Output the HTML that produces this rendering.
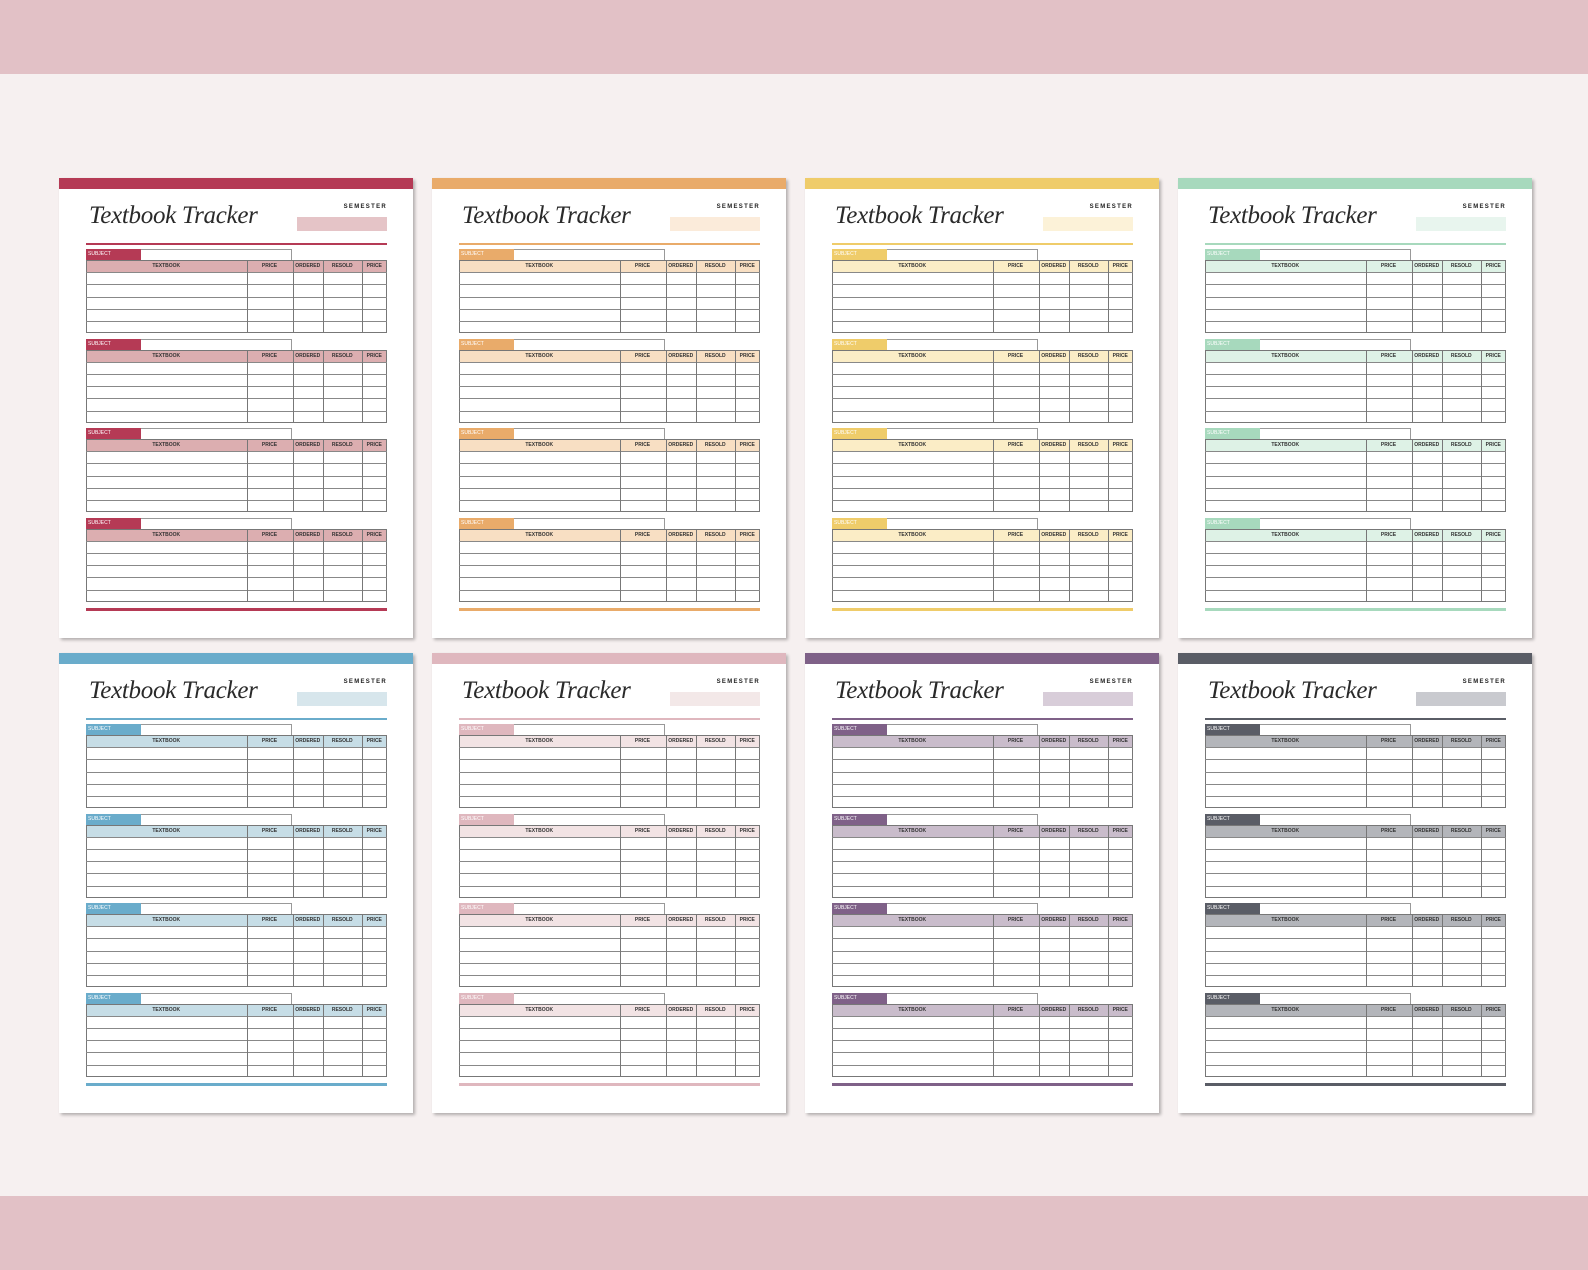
<!DOCTYPE html>
<html><head><meta charset="utf-8">
<style>
html,body{margin:0;padding:0;}
body{width:1588px;height:1270px;background:#f6f0f0;position:relative;overflow:hidden;font-family:"Liberation Sans",sans-serif;}
.band{position:absolute;left:0;width:1588px;background:#e2c1c6;}
.page{position:absolute;width:354px;height:460px;background:#fff;box-shadow:2px 2px 3px rgba(0,0,0,0.28);}
.abs{position:absolute;box-sizing:border-box;}
.title{position:absolute;left:30px;top:24px;font-family:"Liberation Serif",serif;font-style:italic;font-size:25px;color:#2a2a2a;letter-spacing:-0.3px;white-space:nowrap;}
.sem{position:absolute;right:26px;top:26px;font-size:6px;font-weight:bold;letter-spacing:1.3px;color:#222;}
.hd{position:absolute;font-size:5px;color:#333;text-align:center;line-height:12px;font-weight:bold;}
.subj{position:absolute;font-size:5px;color:#fff;line-height:11px;padding-left:2px;box-sizing:border-box;}
</style></head>
<body>
<div class="band" style="top:0;height:74px;"></div>
<div class="band" style="top:1196px;height:74px;"></div>
<div id="root"></div>
<script>
const themeNames = ['red','orange','yellow','green','blue','pink','purple','gray'];
const mainColors = ['#b53a55','#e9ab6a','#efcc6a','#a7d9bd','#6aaccb','#dfb7be','#7f6188','#5a5d66'];
const headerColors = ['#dcaeb0','#f8dfc3','#fbedc6','#def2e6','#c6dde6','#f2e3e4','#c9bccb','#b3b5ba'];
const semColors = ['#e5c4c7','#fbebda','#fcf2d8','#e8f5ee','#d7e6ec','#f3e8e8','#d8cdd9','#c9cacf'];
const columns = ['TEXTBOOK','PRICE','ORDERED','RESOLD','PRICE'];
const colEdges = [0,160.5,206.5,237,275.5,301];

const lefts=[59,432,805,1178], tops=[178,653];
const root=document.getElementById('root');
function mk(parent,cls,style,name){
  const d=document.createElement('div');
  if(cls)d.className=cls;
  d.style.cssText=style;
  
  
  parent.appendChild(d);return d;
}
themeNames.forEach((t,i)=>{
  const c=mainColors[i],h=headerColors[i];
  const p=mk(root,'page',`left:${lefts[i%4]}px;top:${tops[Math.floor(i/4)]}px;`,'planner-page-'+t);
  mk(p,'abs',`left:0;top:0;width:354px;height:11px;background:${c};`,'page-top-bar');
  const ti=mk(p,'title','','page-title');ti.textContent='Textbook Tracker';
  const s=mk(p,'sem','','semester-label');s.textContent='SEMESTER';
  const sb=mk(p,'abs',`left:238px;top:39px;width:90px;height:14px;background:${semColors[i]};`,'semester-field');
  
  mk(p,'abs',`left:27px;top:65px;width:301px;height:2px;background:${c};`,'header-rule');
  const ox=27;
  for(let b=0;b<4;b++){
    const y0=71+b*89.5;
    const sl=mk(p,'subj',`left:${ox}px;top:${y0}px;width:55px;height:11px;background:${c};`,'subject-label');sl.textContent='SUBJECT';
    const sf=mk(p,'abs',`left:${ox+55}px;top:${y0}px;width:151px;height:12px;border:1px solid #999;border-left:none;border-bottom:none;`,'subject-field');
    
    const ty=y0+11;
    mk(p,'abs',`left:${ox}px;top:${ty}px;width:301px;height:12px;background:${h};`,'table-header');
    columns.forEach((col,k)=>{
      const e=mk(p,'hd',`left:${ox+colEdges[k]}px;top:${ty}px;width:${colEdges[k+1]-colEdges[k]}px;`,'column-header-'+col.toLowerCase());
      e.textContent=col;
    });
    mk(p,'abs',`left:${ox}px;top:${ty}px;width:301px;height:73px;border:1px solid #777;`,'table-border');
    for(let r=1;r<=5;r++){
      mk(p,'abs',`left:${ox}px;top:${ty+r*12.2}px;width:301px;height:1px;background:#888;`,'row-line');
    }
    for(let k=1;k<5;k++){
      mk(p,'abs',`left:${ox+colEdges[k]}px;top:${ty}px;width:1px;height:73px;background:#777;`,'column-line');
    }
  }
  mk(p,'abs',`left:27px;top:430px;width:301px;height:3px;background:${c};`,'footer-rule');
});
</script>
</body></html>
